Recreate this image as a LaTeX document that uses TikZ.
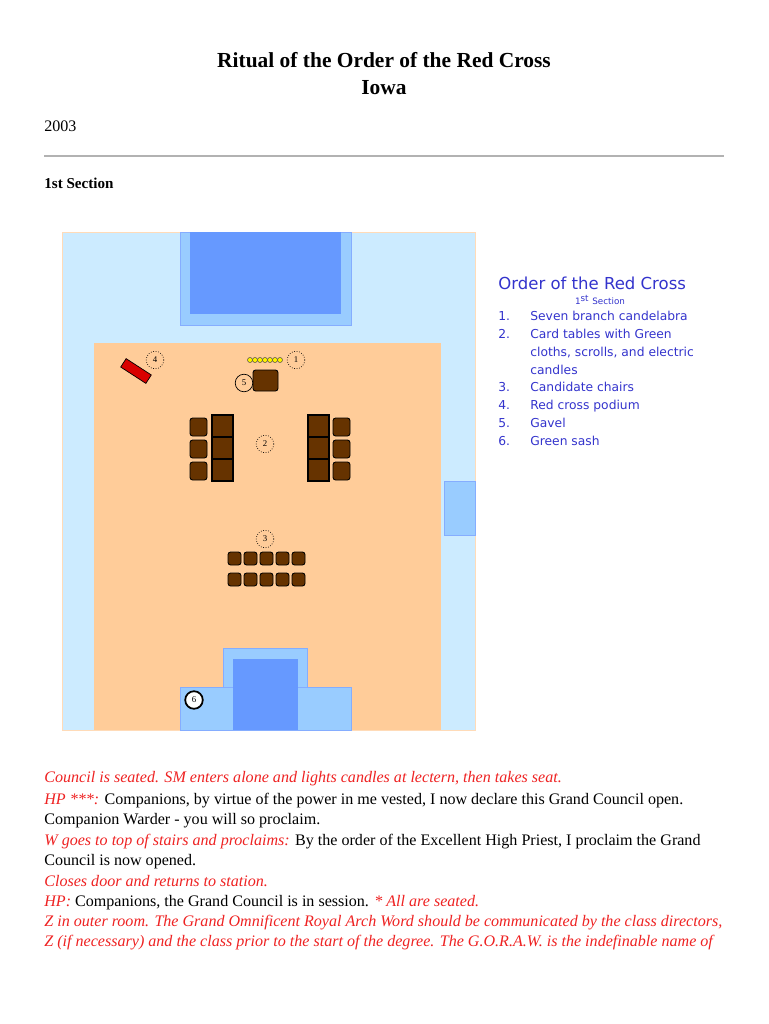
\documentclass[tikz,border=0pt]{standalone}
\usepackage{fontspec}
\setmainfont{Liberation Serif}
\newfontfamily\legendfont{DejaVu Sans}
\usepackage{xcolor}
\definecolor{roomblue}{HTML}{CCEBFF}
\definecolor{paleblue}{HTML}{99CCFF}
\definecolor{deepblue}{HTML}{6699FF}
\definecolor{floor}{HTML}{FFCC99}
\definecolor{wood}{HTML}{663300}
\definecolor{legendblue}{HTML}{3333CC}
\definecolor{cue}{HTML}{EE2222}
\tikzset{>=latex}
\begin{document}
\begin{tikzpicture}[x=0.02cm, y=-0.02cm]
  % px coordinates, y downwards
  \tikzstyle{every node}=[inner sep=0pt]
  \tikzstyle{chair}=[fill=wood, draw=black, line width=0.5pt, rounded corners=1.5pt]
  \tikzstyle{tablebox}=[fill=wood, draw=black, line width=0.6pt]
  \tikzstyle{marker}=[circle, draw=black, fill=floor, densely dotted, minimum size=10pt, font=\fontsize{5}{5}\selectfont]
  \tikzstyle{script}=[anchor=base west, font=\fontsize{9.15}{11}\selectfont]
  \useasboundingbox (0,0) rectangle (768,1024);
  % heading
  \node[font=\fontsize{12.2}{14}\selectfont\bfseries] (title) at (384,60) {Ritual of the Order of the Red Cross};
  \node[font=\fontsize{12.2}{14}\selectfont\bfseries] (state) at (384,88) {Iowa};
  \node[script] (year) at (44,132) {2003};
  \draw[gray!60, line width=0.6pt] (44,156) -- (724,156);
  \node[script, font=\fontsize{8.6}{10}\selectfont\bfseries] (section) at (44,188) {1st Section};
  % room
  \fill[roomblue, draw=floor!70] (62,232) rectangle (475,730);
  \fill[paleblue, draw=deepblue!80] (180,232) rectangle (351,325);
  \fill[deepblue] (190,232) rectangle (341,314);
  \fill[floor] (94,343) rectangle (441,730);
  \fill[paleblue, draw=deepblue!80] (444,481) rectangle (475,535);
  \fill[paleblue, draw=deepblue!80] (223,648) rectangle (307,730);
  \fill[paleblue, draw=deepblue!80] (180,687) rectangle (351,730);
  \fill[deepblue] (233,659) rectangle (298,730);
  % candelabra, podium, gavel chair
  \foreach \x in {250,255,...,280}
    \fill[yellow, draw=black!70, line width=0.3pt] (\x,360) circle (2.5);
  \fill[red!85!black, draw=black, rotate around={-33:(136,371)}] (121,366) rectangle (151,376);
  \draw[chair] (253,391) rectangle (278,370);
  % card tables with chairs
  \foreach \tx/\cx in {212/190, 308/333} {
    \foreach \y in {415,437,459}
      \draw[tablebox] (\tx,\y) rectangle ++(21,22);
    \foreach \y in {418,440,462}
      \draw[chair] (\cx,\y) rectangle ++(17,18);
  }
  % candidate chairs
  \foreach \y in {552,573}
    \foreach \x in {228,244,...,292}
      \draw[chair] (\x,\y) rectangle ++(13,13);
  % numbered markers
  \node[marker] (m1) at (296,360) {1};
  \node[marker] (m2) at (265,444) {2};
  \node[marker] (m3) at (265,539) {3};
  \node[marker] (m4) at (155,360) {4};
  \node[marker, solid] (m5) at (244,383) {5};
  \node[marker, solid, fill=white, line width=1pt] (m6) at (194,700) {6};
  % legend
  \node[anchor=base west, text=legendblue, font=\legendfont\fontsize{9.4}{11}\selectfont] (legend) at (498,289) {Order of the Red Cross};
  \node[text=legendblue, font=\legendfont\fontsize{5}{6}\selectfont] (legsub) at (600,300) {1\textsuperscript{st} Section};
  \foreach \n/\y/\t in {1./320/Seven branch candelabra, 2./338/Card tables with Green, /356/{cloths, scrolls, and electric}, /374/candles, 3./391/Candidate chairs, 4./409/Red cross podium, 5./427/Gavel, 6./445/Green sash} {
    \node[anchor=base west, text=legendblue, font=\legendfont\fontsize{7}{9}\selectfont] at (498,\y) {\n};
    \node[anchor=base west, text=legendblue, font=\legendfont\fontsize{7}{9}\selectfont] at (530,\y) {\t};
  }
  % ritual text
  \node[script] (l1) at (44,782) {\textcolor{cue}{\itshape Council is seated. SM enters alone and lights candles at lectern, then takes seat.}};
  \node[script] (l2) at (44,804) {\textcolor{cue}{\itshape HP ***:} Companions, by virtue of the power in me vested, I now declare this Grand Council open.};
  \node[script] (l3) at (44,824) {Companion Warder - you will so proclaim.};
  \node[script] (l4) at (44,845) {\textcolor{cue}{\itshape W goes to top of stairs and proclaims:} By the order of the Excellent High Priest, I proclaim the Grand};
  \node[script] (l5) at (44,865) {Council is now opened.};
  \node[script] (l6) at (44,886) {\textcolor{cue}{\itshape Closes door and returns to station.}};
  \node[script] (l7) at (44,906) {\textcolor{cue}{\itshape HP:} Companions, the Grand Council is in session. \textcolor{cue}{\itshape * All are seated.}};
  \node[script] (l8) at (44,926) {\textcolor{cue}{\itshape Z in outer room. The Grand Omnificent Royal Arch Word should be communicated by the class directors,}};
  \node[script] (l9) at (44,946) {\textcolor{cue}{\itshape Z (if necessary) and the class prior to the start of the degree. The G.O.R.A.W. is the indefinable name of}};
\end{tikzpicture}
\end{document}
